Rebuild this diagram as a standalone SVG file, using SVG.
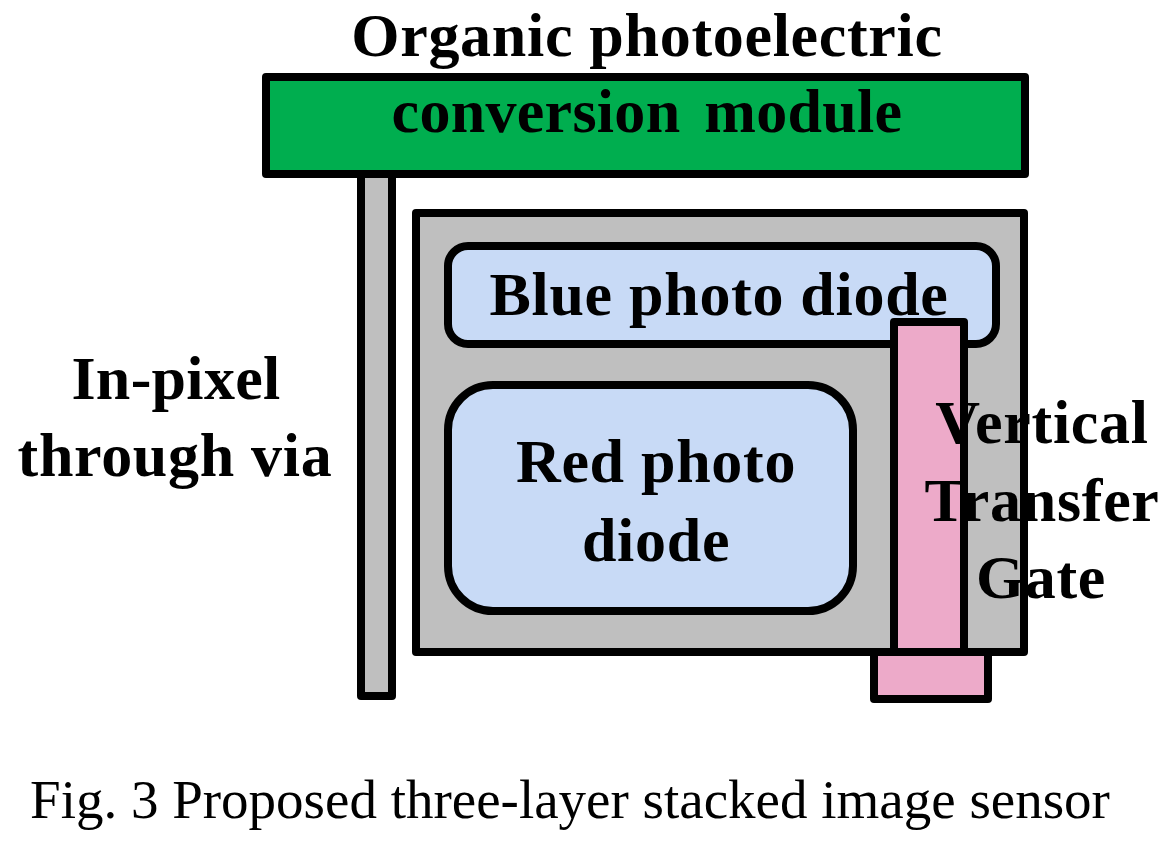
<svg xmlns="http://www.w3.org/2000/svg" width="1167" height="850" viewBox="0 0 1167 850">
<style>
.s{stroke:#000;stroke-width:8;stroke-linejoin:round}
.t{font-family:"Liberation Serif",serif;font-weight:bold;font-size:62px;letter-spacing:.7px;text-anchor:middle;fill:#000}
.g{fill:#bfbfbf}
.p{fill:#edaac9}
.b{fill:#c8daf6}
</style>
<rect width="1167" height="850" fill="#fff"/>
<g id="via"><rect class="s g" x="361" y="174" width="31" height="522"/></g>
<g id="module"><rect class="s" fill="#00ae4f" x="266" y="77" width="759" height="97"/></g>
<g id="substrate"><rect class="s g" x="416" y="213" width="608" height="439"/></g>
<g id="blue"><rect class="s b" x="448" y="246" width="548" height="98" rx="20"/></g>
<g id="red"><rect class="s b" x="448" y="385" width="405" height="226" rx="45"/></g>
<g id="gate"><rect class="s p" x="874" y="652" width="114" height="47"/><rect class="s p" x="894" y="322" width="70" height="330"/></g>
<g id="labels">
<text class="t" x="647" y="56">Organic photoelectric</text>
<text class="t" x="647" y="132" style="letter-spacing:.3px;word-spacing:8px">conversion module</text>
<text class="t" x="719" y="315">Blue photo diode</text>
<text class="t" x="656" y="482">Red photo</text>
<text class="t" x="656" y="561">diode</text>
<text class="t" x="176" y="399" style="letter-spacing:.3px">In-pixel</text>
<text class="t" x="175" y="476">through via</text>
<text class="t" x="1042" y="443">Vertical</text>
<text class="t" x="1042" y="521">Transfer</text>
<text class="t" x="1041" y="598">Gate</text>
<text x="570" y="818" font-family="Liberation Serif, serif" font-size="55" text-anchor="middle">Fig. 3 Proposed three-layer stacked image sensor</text>
</g>
</svg>
